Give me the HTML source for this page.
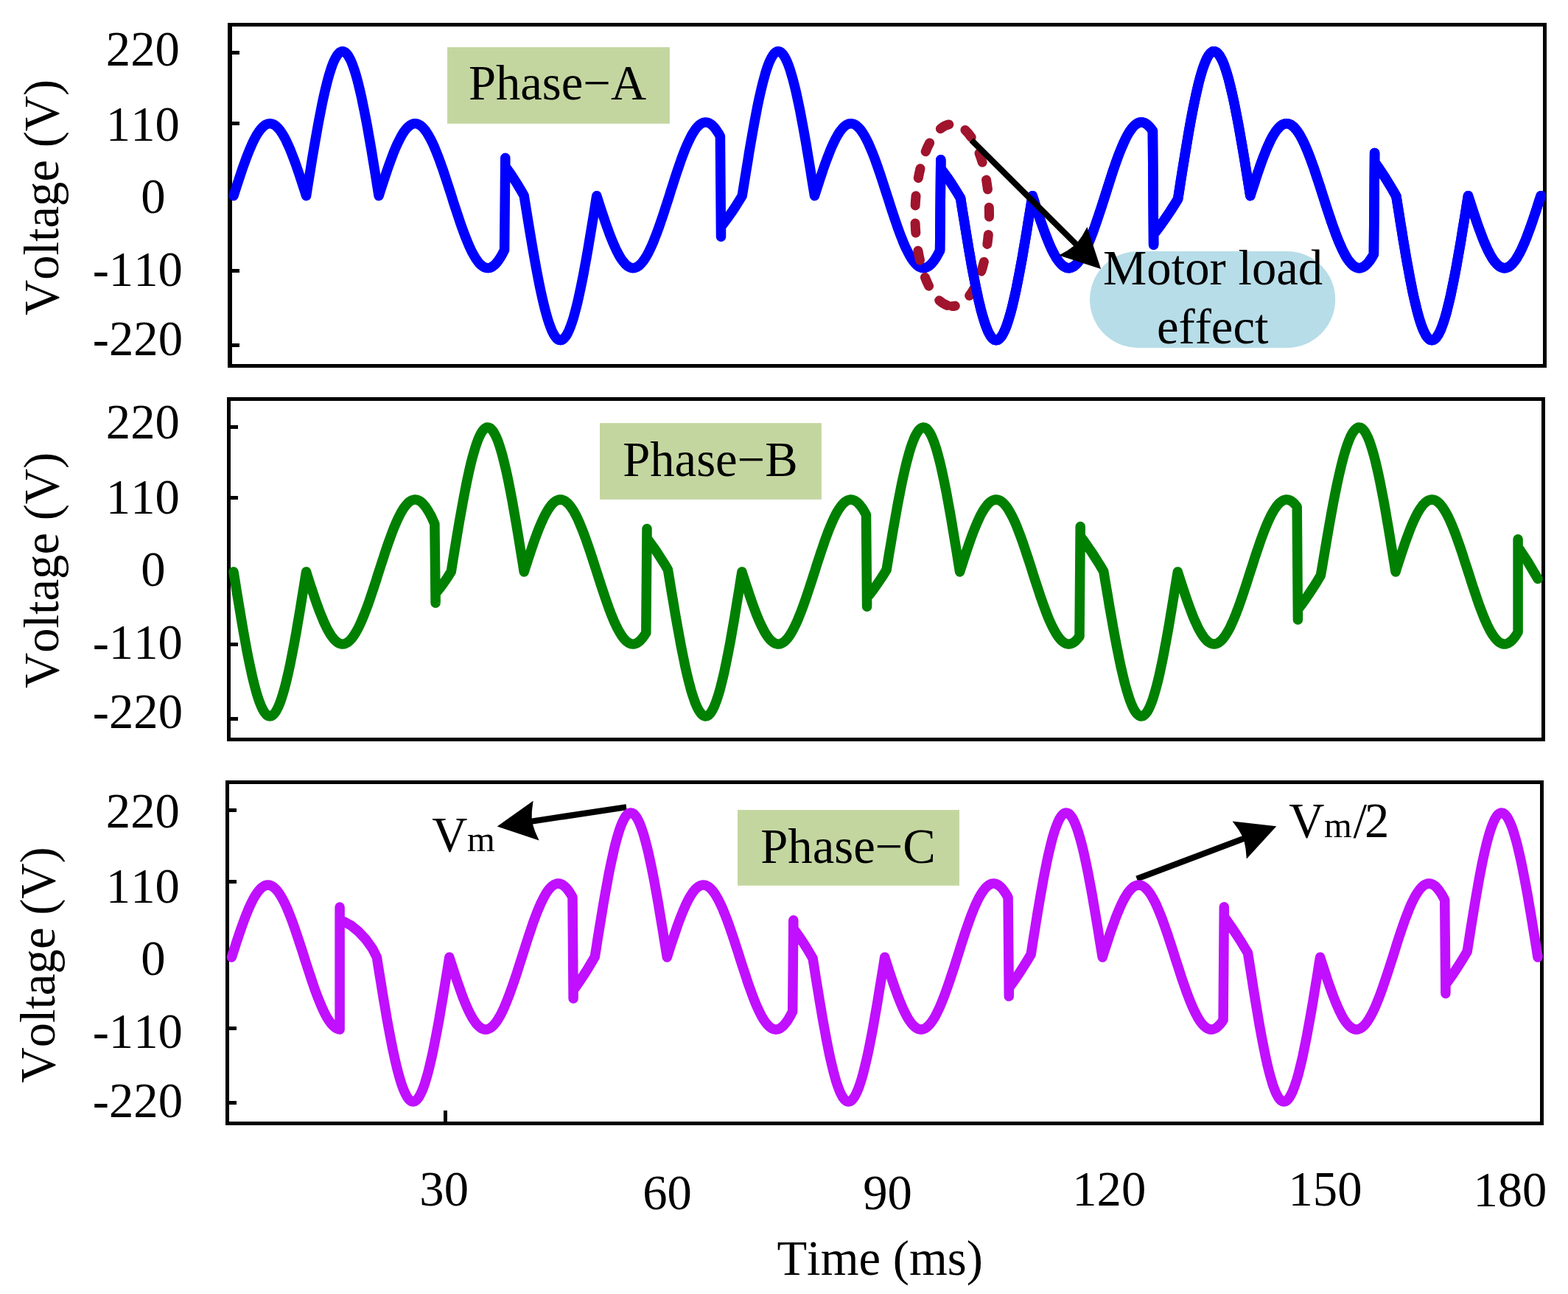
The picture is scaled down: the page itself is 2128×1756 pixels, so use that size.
<!DOCTYPE html>
<html lang="en">
<head>
<meta charset="utf-8">
<title>Three-phase voltage waveforms</title>
<style>
html,body{margin:0;padding:0;background:#fff;}
body{width:2128px;height:1756px;}
svg{display:block;}
svg text{font-family:"Liberation Serif", "DejaVu Serif", serif;font-size:66.67px;fill:#000;font-kerning:none;font-variant-ligatures:none;white-space:pre;}
</style>
</head>
<body>
<svg width="2128" height="1756" viewBox="0 0 2128 1756">
<rect width="2128" height="1756" fill="#fff"/>
<g id="panel1">
<path d="M309,31H2099V499H309Z M315,36V494H2094V36Z" fill="#000" fill-rule="evenodd"/>
<path d="M314,69H325V74H314Z M314,165H325V170H314Z M314,365H325V370H314Z M314,466H325V471H314Z" fill="#000"/>
<path d="M317.0,265.7 319.0,259.5 320.9,253.4 322.9,247.3 324.9,241.3 326.9,235.4 328.8,229.6 330.8,224.0 332.8,218.5 334.7,213.2 336.7,208.1 338.7,203.2 340.7,198.6 342.6,194.3 344.6,190.2 346.6,186.4 348.5,182.9 350.5,179.8 352.5,177.0 354.5,174.6 356.4,172.5 358.4,170.8 360.4,169.4 362.3,168.5 364.3,167.9 366.3,167.7 368.3,167.9 370.2,168.5 372.2,169.4 374.2,170.8 376.1,172.5 378.1,174.6 380.1,177.0 382.0,179.8 384.0,182.9 386.0,186.4 388.0,190.2 389.9,194.3 391.9,198.6 393.9,203.2 395.8,208.1 397.8,213.2 399.8,218.5 401.8,224.0 403.7,229.6 405.7,235.4 407.7,241.3 409.6,247.3 411.6,253.4 413.6,259.5 415.6,265.7 415.6,265.7 417.5,253.4 419.5,241.1 421.5,229.0 423.4,217.0 425.4,205.1 427.4,193.5 429.4,182.2 431.3,171.3 433.3,160.7 435.3,150.5 437.2,140.8 439.2,131.5 441.2,122.8 443.2,114.7 445.1,107.1 447.1,100.2 449.1,93.9 451.0,88.3 453.0,83.4 455.0,79.3 457.0,75.8 458.9,73.2 460.9,71.2 462.9,70.1 464.8,69.7 466.8,70.1 468.8,71.2 470.8,73.2 472.7,75.8 474.7,79.3 476.7,83.4 478.6,88.3 480.6,93.9 482.6,100.2 484.6,107.1 486.5,114.7 488.5,122.8 490.5,131.5 492.4,140.8 494.4,150.5 496.4,160.7 498.4,171.3 500.3,182.2 502.3,193.5 504.3,205.1 506.2,217.0 508.2,229.0 510.2,241.1 512.1,253.4 514.1,265.7 514.1,265.7 516.1,259.5 518.1,253.3 520.1,247.2 522.1,241.2 524.0,235.2 526.0,229.4 528.0,223.7 530.0,218.2 532.0,212.9 533.9,207.8 535.9,202.9 537.9,198.3 539.9,193.9 541.9,189.9 543.9,186.1 545.8,182.6 547.8,179.5 549.8,176.7 551.8,174.3 553.8,172.3 555.8,170.6 557.7,169.3 559.7,168.4 561.7,167.8 563.7,167.7 565.7,167.9 567.7,168.6 569.6,169.6 571.6,171.0 573.6,172.8 575.6,175.0 577.6,177.5 579.5,180.4 581.5,183.6 583.5,187.2 585.5,191.0 587.5,195.2 589.5,199.6 591.4,204.3 593.4,209.3 595.4,214.4 597.4,219.8 599.4,225.4 601.4,231.1 603.3,236.9 605.3,242.9 607.3,249.0 609.3,255.1 611.3,261.3 613.3,267.5 615.2,273.7 617.2,279.8 619.2,285.9 621.2,291.9 623.2,297.9 625.1,303.6 627.1,309.3 629.1,314.7 631.1,320.0 633.1,325.0 635.1,329.8 637.0,334.4 639.0,338.7 641.0,342.7 643.0,346.3 645.0,349.7 647.0,352.7 648.9,355.4 650.9,357.7 652.9,359.7 654.9,361.2 656.9,362.4 658.9,363.2 660.8,363.6 662.8,363.7 664.8,363.3 666.8,362.6 668.8,361.4 670.8,359.9 672.7,358.0 674.7,355.7 676.7,353.1 678.7,350.1 680.7,346.8 682.6,343.2 684.6,339.2 685.8,214.3 685.8,225.9 690.0,231.7 694.3,237.9 698.5,244.4 702.8,251.2 707.0,258.3 711.2,265.7 713.1,277.5 715.0,289.3 716.9,301.0 718.8,312.6 720.7,324.0 722.6,335.2 724.5,346.1 726.4,356.8 728.3,367.1 730.2,377.1 732.1,386.6 734.0,395.7 735.9,404.3 737.8,412.4 739.7,420.0 741.6,427.0 743.5,433.5 745.4,439.3 747.3,444.5 749.1,449.0 751.0,452.8 752.9,456.0 754.8,458.5 756.7,460.3 758.6,461.4 760.5,461.7 760.5,461.7 762.5,461.3 764.5,460.2 766.4,458.2 768.4,455.6 770.4,452.1 772.3,448.0 774.3,443.1 776.3,437.5 778.3,431.2 780.2,424.3 782.2,416.7 784.2,408.6 786.1,399.9 788.1,390.6 790.1,380.9 792.1,370.7 794.0,360.1 796.0,349.2 798.0,337.9 799.9,326.3 801.9,314.4 803.9,302.4 805.9,290.3 807.8,278.0 809.8,265.7 809.8,265.7 811.8,271.9 813.7,278.0 815.7,284.1 817.7,290.1 819.7,296.0 821.6,301.8 823.6,307.4 825.6,312.9 827.5,318.2 829.5,323.3 831.5,328.2 833.5,332.8 835.4,337.1 837.4,341.2 839.4,345.0 841.3,348.5 843.3,351.6 845.3,354.4 847.3,356.8 849.2,358.9 851.2,360.6 853.2,362.0 855.1,362.9 857.1,363.5 859.1,363.7 861.1,363.5 863.0,362.9 865.0,362.0 867.0,360.6 868.9,358.9 870.9,356.8 872.9,354.4 874.8,351.6 876.8,348.5 878.8,345.0 880.8,341.2 882.7,337.1 884.7,332.8 886.7,328.2 888.6,323.3 890.6,318.2 892.6,312.9 894.6,307.4 896.5,301.8 898.5,296.0 900.5,290.1 902.4,284.1 904.4,278.0 906.4,271.9 908.4,265.7 910.3,259.4 912.3,253.2 914.3,247.0 916.2,240.9 918.2,234.9 920.2,229.0 922.2,223.2 924.1,217.6 926.1,212.2 928.1,207.0 930.0,202.1 932.0,197.4 934.0,193.0 936.0,188.8 937.9,185.0 939.9,181.4 941.9,178.3 943.8,175.4 945.8,172.9 947.8,170.8 949.8,169.0 951.7,167.7 953.7,166.7 955.7,166.1 957.6,165.9 959.6,166.1 961.6,166.7 963.6,167.7 965.5,169.0 967.5,170.8 969.5,172.9 971.4,175.4 973.4,178.3 975.4,181.4 977.4,185.0 978.5,321.3 978.5,307.8 983.3,301.5 988.1,295.0 992.9,288.2 997.7,281.0 1002.4,273.5 1007.2,265.7 1009.1,253.9 1011.0,242.1 1012.9,230.4 1014.8,218.8 1016.6,207.4 1018.5,196.2 1020.4,185.3 1022.3,174.6 1024.2,164.3 1026.1,154.3 1027.9,144.8 1029.8,135.7 1031.7,127.1 1033.6,119.0 1035.5,111.4 1037.4,104.4 1039.2,97.9 1041.1,92.1 1043.0,86.9 1044.9,82.4 1046.8,78.6 1048.7,75.4 1050.5,72.9 1052.4,71.1 1054.3,70.0 1056.2,69.7 1056.2,69.7 1058.2,70.1 1060.1,71.2 1062.1,73.2 1064.1,75.8 1066.1,79.3 1068.0,83.4 1070.0,88.3 1072.0,93.9 1073.9,100.2 1075.9,107.1 1077.9,114.7 1079.9,122.8 1081.8,131.5 1083.8,140.8 1085.8,150.5 1087.7,160.7 1089.7,171.3 1091.7,182.2 1093.7,193.5 1095.6,205.1 1097.6,217.0 1099.6,229.0 1101.5,241.1 1103.5,253.4 1105.5,265.7 1105.5,265.7 1107.5,259.5 1109.4,253.4 1111.4,247.3 1113.4,241.2 1115.4,235.3 1117.3,229.5 1119.3,223.8 1121.3,218.3 1123.3,213.0 1125.3,207.9 1127.2,203.0 1129.2,198.4 1131.2,194.1 1133.2,190.0 1135.2,186.2 1137.1,182.8 1139.1,179.6 1141.1,176.9 1143.1,174.4 1145.0,172.4 1147.0,170.7 1149.0,169.3 1151.0,168.4 1153.0,167.9 1154.9,167.7 1156.9,167.9 1158.9,168.5 1160.9,169.5 1162.8,170.9 1164.8,172.7 1166.8,174.8 1168.8,177.3 1170.8,180.2 1172.7,183.3 1174.7,186.9 1176.7,190.7 1178.7,194.8 1180.6,199.2 1182.6,203.9 1184.6,208.8 1186.6,213.9 1188.6,219.3 1190.5,224.8 1192.5,230.5 1194.5,236.3 1196.5,242.3 1198.4,248.3 1200.4,254.4 1202.4,260.6 1204.4,266.8 1206.4,272.9 1208.3,279.1 1210.3,285.2 1212.3,291.2 1214.3,297.1 1216.3,302.9 1218.2,308.5 1220.2,314.0 1222.2,319.3 1224.2,324.3 1226.1,329.2 1228.1,333.8 1230.1,338.1 1232.1,342.1 1234.1,345.8 1236.0,349.2 1238.0,352.3 1240.0,355.0 1242.0,357.4 1243.9,359.4 1245.9,361.0 1247.9,362.3 1249.9,363.1 1251.9,363.6 1253.8,363.7 1255.8,363.4 1257.8,362.7 1259.8,361.6 1261.7,360.2 1263.7,358.4 1265.7,356.2 1267.7,353.6 1269.7,350.7 1271.6,347.5 1273.6,343.9 1275.6,340.0 1276.8,216.7 1276.8,228.8 1281.2,234.7 1285.7,240.9 1290.2,247.5 1294.6,254.3 1299.1,261.5 1303.6,269.0 1305.4,280.7 1307.3,292.3 1309.2,303.9 1311.0,315.3 1312.9,326.6 1314.7,337.6 1316.6,348.3 1318.4,358.8 1320.3,368.9 1322.2,378.7 1324.0,388.1 1325.9,397.0 1327.7,405.5 1329.6,413.4 1331.4,420.9 1333.3,427.7 1335.2,434.0 1337.0,439.7 1338.9,444.8 1340.7,449.3 1342.6,453.0 1344.5,456.1 1346.3,458.6 1348.2,460.3 1350.0,461.4 1351.9,461.7 1351.9,461.7 1353.9,461.3 1355.8,460.2 1357.8,458.2 1359.8,455.6 1361.7,452.1 1363.7,448.0 1365.7,443.1 1367.6,437.5 1369.6,431.2 1371.6,424.3 1373.6,416.7 1375.5,408.6 1377.5,399.9 1379.5,390.6 1381.4,380.9 1383.4,370.7 1385.4,360.1 1387.4,349.2 1389.3,337.9 1391.3,326.3 1393.3,314.4 1395.2,302.4 1397.2,290.3 1399.2,278.0 1401.2,265.7 1401.2,265.7 1403.2,271.9 1405.1,278.1 1407.1,284.2 1409.1,290.3 1411.1,296.3 1413.1,302.1 1415.1,307.8 1417.1,313.3 1419.1,318.7 1421.1,323.8 1423.1,328.7 1425.0,333.3 1427.0,337.7 1429.0,341.8 1431.0,345.5 1433.0,349.0 1435.0,352.1 1437.0,354.8 1439.0,357.2 1441.0,359.3 1443.0,360.9 1444.9,362.2 1446.9,363.1 1448.9,363.6 1450.9,363.7 1452.9,363.4 1454.9,362.7 1456.9,361.6 1458.9,360.2 1460.9,358.3 1462.9,356.1 1464.9,353.5 1466.8,350.6 1468.8,347.3 1470.8,343.7 1472.8,339.8 1474.8,335.6 1476.8,331.1 1478.8,326.4 1480.8,321.3 1482.8,316.1 1484.8,310.7 1486.7,305.1 1488.7,299.3 1490.7,293.4 1492.7,287.4 1494.7,281.3 1496.7,275.1 1498.7,268.9 1500.7,262.6 1502.7,256.3 1504.7,250.0 1506.7,243.8 1508.6,237.7 1510.6,231.7 1512.6,225.8 1514.6,220.1 1516.6,214.5 1518.6,209.2 1520.6,204.1 1522.6,199.3 1524.6,194.7 1526.6,190.4 1528.5,186.4 1530.5,182.7 1532.5,179.3 1534.5,176.4 1536.5,173.7 1538.5,171.4 1540.5,169.6 1542.5,168.1 1544.5,166.9 1546.5,166.2 1548.5,165.9 1550.4,166.0 1552.4,166.5 1554.4,167.4 1556.4,168.7 1558.4,170.4 1560.4,172.4 1562.4,174.9 1564.4,177.7 1565.6,332.2 1565.6,318.3 1571.1,311.0 1576.6,303.5 1582.1,295.6 1587.6,287.5 1593.1,279.0 1598.6,270.2 1600.5,258.1 1602.3,246.2 1604.2,234.3 1606.1,222.5 1608.0,210.8 1609.9,199.4 1611.8,188.2 1613.6,177.3 1615.5,166.8 1617.4,156.6 1619.3,146.8 1621.2,137.5 1623.1,128.7 1625.0,120.3 1626.8,112.6 1628.7,105.4 1630.6,98.8 1632.5,92.8 1634.4,87.4 1636.3,82.8 1638.1,78.8 1640.0,75.5 1641.9,73.0 1643.8,71.2 1645.7,70.0 1647.6,69.7 1647.6,69.7 1649.5,70.1 1651.5,71.2 1653.5,73.2 1655.4,75.8 1657.4,79.3 1659.4,83.4 1661.4,88.3 1663.3,93.9 1665.3,100.2 1667.3,107.1 1669.2,114.7 1671.2,122.8 1673.2,131.5 1675.2,140.8 1677.1,150.5 1679.1,160.7 1681.1,171.3 1683.0,182.2 1685.0,193.5 1687.0,205.1 1689.0,217.0 1690.9,229.0 1692.9,241.1 1694.9,253.4 1696.8,265.7 1696.8,265.7 1698.8,259.5 1700.8,253.4 1702.8,247.3 1704.7,241.3 1706.7,235.4 1708.7,229.6 1710.6,224.0 1712.6,218.5 1714.6,213.2 1716.6,208.1 1718.5,203.2 1720.5,198.6 1722.5,194.3 1724.4,190.2 1726.4,186.4 1728.4,182.9 1730.4,179.8 1732.3,177.0 1734.3,174.6 1736.3,172.5 1738.2,170.8 1740.2,169.4 1742.2,168.5 1744.1,167.9 1746.1,167.7 1748.1,167.9 1750.1,168.5 1752.0,169.4 1754.0,170.8 1756.0,172.5 1757.9,174.6 1759.9,177.0 1761.9,179.8 1763.9,182.9 1765.8,186.4 1767.8,190.2 1769.8,194.3 1771.7,198.6 1773.7,203.2 1775.7,208.1 1777.7,213.2 1779.6,218.5 1781.6,224.0 1783.6,229.6 1785.5,235.4 1787.5,241.3 1789.5,247.3 1791.5,253.4 1793.4,259.5 1795.4,265.7 1797.4,271.9 1799.3,278.0 1801.3,284.1 1803.3,290.1 1805.3,296.0 1807.2,301.8 1809.2,307.4 1811.2,312.9 1813.1,318.2 1815.1,323.3 1817.1,328.2 1819.1,332.8 1821.0,337.1 1823.0,341.2 1825.0,345.0 1826.9,348.5 1828.9,351.6 1830.9,354.4 1832.9,356.8 1834.8,358.9 1836.8,360.6 1838.8,362.0 1840.7,362.9 1842.7,363.5 1844.7,363.7 1846.7,363.5 1848.6,362.9 1850.6,362.0 1852.6,360.6 1854.5,358.9 1856.5,356.8 1858.5,354.4 1860.4,351.6 1862.4,348.5 1864.4,345.0 1865.6,207.4 1865.6,220.1 1870.5,227.0 1875.4,234.3 1880.3,241.8 1885.2,249.7 1890.1,257.9 1894.9,266.4 1896.8,278.2 1898.7,290.0 1900.5,301.7 1902.4,313.2 1904.2,324.6 1906.1,335.7 1907.9,346.6 1909.8,357.2 1911.7,367.5 1913.5,377.4 1915.4,386.9 1917.2,396.0 1919.1,404.6 1921.0,412.6 1922.8,420.2 1924.7,427.2 1926.5,433.6 1928.4,439.4 1930.2,444.5 1932.1,449.0 1934.0,452.9 1935.8,456.1 1937.7,458.5 1939.5,460.3 1941.4,461.4 1943.2,461.7 1943.2,461.7 1945.2,461.3 1947.2,460.2 1949.2,458.2 1951.1,455.6 1953.1,452.1 1955.1,448.0 1957.0,443.1 1959.0,437.5 1961.0,431.2 1963.0,424.3 1964.9,416.7 1966.9,408.6 1968.9,399.9 1970.8,390.6 1972.8,380.9 1974.8,370.7 1976.8,360.1 1978.7,349.2 1980.7,337.9 1982.7,326.3 1984.6,314.4 1986.6,302.4 1988.6,290.3 1990.5,278.0 1992.5,265.7 1992.5,265.7 1994.5,271.9 1996.5,278.0 1998.4,284.1 2000.4,290.1 2002.4,296.0 2004.3,301.8 2006.3,307.4 2008.3,312.9 2010.3,318.2 2012.2,323.3 2014.2,328.2 2016.2,332.8 2018.1,337.1 2020.1,341.2 2022.1,345.0 2024.1,348.5 2026.0,351.6 2028.0,354.4 2030.0,356.8 2031.9,358.9 2033.9,360.6 2035.9,362.0 2037.9,362.9 2039.8,363.5 2041.8,363.7 2043.8,363.5 2045.7,362.9 2047.7,362.0 2049.7,360.6 2051.7,358.9 2053.6,356.8 2055.6,354.4 2057.6,351.6 2059.5,348.5 2061.5,345.0 2063.5,341.2 2065.5,337.1 2067.4,332.8 2069.4,328.2 2071.4,323.3 2073.3,318.2 2075.3,312.9 2077.3,307.4 2079.3,301.8 2081.2,296.0 2083.2,290.1 2085.2,284.1 2087.1,278.0 2089.1,271.9 2091.1,265.7" fill="none" stroke="#0000FF" stroke-width="13.5" stroke-linecap="round" stroke-linejoin="round"/>
<path d="M1292.2,415.5 A50.3,123.5 0 1 0 1292.2,168.5 A50.3,123.5 0 1 0 1292.2,415.5" fill="none" stroke="#A0142D" stroke-width="13" stroke-linecap="round" stroke-dasharray="13 24.3" stroke-dashoffset="8.9"/>
<path d="M1275.6,340.0 1276.8,216.7 1276.8,228.8 1281.2,234.7 1285.7,240.9 1290.2,247.5 1294.6,254.3 1299.1,261.5 1303.6,269.0 1305.4,280.7 1307.3,292.3 1309.2,303.9 1311.0,315.3 1312.9,326.6 1314.7,337.6 1316.6,348.3 1318.4,358.8 1320.3,368.9 1322.2,378.7 1324.0,388.1 1325.9,397.0 1327.7,405.5 1329.6,413.4 1331.4,420.9 1333.3,427.7 1335.2,434.0 1337.0,439.7 1338.9,444.8 1340.7,449.3 1342.6,453.0 1344.5,456.1 1346.3,458.6 1348.2,460.3 1350.0,461.4 1351.9,461.7 1351.9,461.7 1353.9,461.3 1355.8,460.2 1357.8,458.2 1359.8,455.6 1361.7,452.1 1363.7,448.0 1365.7,443.1 1367.6,437.5 1369.6,431.2 1371.6,424.3 1373.6,416.7 1375.5,408.6 1377.5,399.9 1379.5,390.6 1381.4,380.9 1383.4,370.7 1385.4,360.1 1387.4,349.2 1389.3,337.9 1391.3,326.3 1393.3,314.4 1395.2,302.4 1397.2,290.3 1399.2,278.0 1401.2,265.7 1401.2,265.7 1403.2,271.9 1405.1,278.1 1407.1,284.2 1409.1,290.3 1411.1,296.3 1413.1,302.1 1415.1,307.8 1417.1,313.3 1419.1,318.7 1421.1,323.8 1423.1,328.7 1425.0,333.3 1427.0,337.7 1429.0,341.8 1431.0,345.5 1433.0,349.0 1435.0,352.1 1437.0,354.8 1439.0,357.2 1441.0,359.3 1443.0,360.9 1444.9,362.2 1446.9,363.1 1448.9,363.6 1450.9,363.7 1452.9,363.4 1454.9,362.7 1456.9,361.6 1458.9,360.2 1460.9,358.3 1462.9,356.1 1464.9,353.5 1466.8,350.6 1468.8,347.3 1470.8,343.7 1472.8,339.8 1474.8,335.6 1476.8,331.1 1478.8,326.4 1480.8,321.3 1482.8,316.1 1484.8,310.7 1486.7,305.1 1488.7,299.3 1490.7,293.4 1492.7,287.4 1494.7,281.3 1496.7,275.1 1498.7,268.9 1500.7,262.6 1502.7,256.3 1504.7,250.0 1506.7,243.8 1508.6,237.7 1510.6,231.7 1512.6,225.8 1514.6,220.1 1516.6,214.5 1518.6,209.2 1520.6,204.1 1522.6,199.3 1524.6,194.7 1526.6,190.4 1528.5,186.4 1530.5,182.7 1532.5,179.3 1534.5,176.4 1536.5,173.7 1538.5,171.4 1540.5,169.6 1542.5,168.1 1544.5,166.9 1546.5,166.2 1548.5,165.9 1550.4,166.0 1552.4,166.5 1554.4,167.4 1556.4,168.7 1558.4,170.4 1560.4,172.4 1562.4,174.9 1564.4,177.7 1565.6,332.2 1565.6,318.3 1571.1,311.0 1576.6,303.5 1582.1,295.6 1587.6,287.5 1593.1,279.0 1598.6,270.2 1600.5,258.1 1602.3,246.2 1604.2,234.3 1606.1,222.5 1608.0,210.8 1609.9,199.4 1611.8,188.2 1613.6,177.3 1615.5,166.8 1617.4,156.6 1619.3,146.8 1621.2,137.5 1623.1,128.7 1625.0,120.3 1626.8,112.6 1628.7,105.4 1630.6,98.8 1632.5,92.8 1634.4,87.4 1636.3,82.8 1638.1,78.8 1640.0,75.5 1641.9,73.0 1643.8,71.2 1645.7,70.0 1647.6,69.7 1647.6,69.7 1649.5,70.1 1651.5,71.2 1653.5,73.2 1655.4,75.8 1657.4,79.3 1659.4,83.4 1661.4,88.3 1663.3,93.9 1665.3,100.2 1667.3,107.1 1669.2,114.7 1671.2,122.8 1673.2,131.5 1675.2,140.8 1677.1,150.5 1679.1,160.7 1681.1,171.3 1683.0,182.2 1685.0,193.5 1687.0,205.1 1689.0,217.0 1690.9,229.0 1692.9,241.1 1694.9,253.4 1696.8,265.7 1696.8,265.7 1698.8,259.5 1700.8,253.4 1702.8,247.3 1704.7,241.3 1706.7,235.4 1708.7,229.6 1710.6,224.0 1712.6,218.5 1714.6,213.2 1716.6,208.1 1718.5,203.2 1720.5,198.6 1722.5,194.3 1724.4,190.2 1726.4,186.4 1728.4,182.9 1730.4,179.8 1732.3,177.0 1734.3,174.6 1736.3,172.5 1738.2,170.8 1740.2,169.4 1742.2,168.5 1744.1,167.9 1746.1,167.7 1748.1,167.9 1750.1,168.5 1752.0,169.4 1754.0,170.8 1756.0,172.5 1757.9,174.6 1759.9,177.0 1761.9,179.8 1763.9,182.9 1765.8,186.4 1767.8,190.2 1769.8,194.3 1771.7,198.6 1773.7,203.2 1775.7,208.1 1777.7,213.2 1779.6,218.5 1781.6,224.0 1783.6,229.6 1785.5,235.4 1787.5,241.3 1789.5,247.3 1791.5,253.4 1793.4,259.5 1795.4,265.7 1797.4,271.9 1799.3,278.0 1801.3,284.1 1803.3,290.1 1805.3,296.0 1807.2,301.8 1809.2,307.4 1811.2,312.9 1813.1,318.2 1815.1,323.3 1817.1,328.2 1819.1,332.8 1821.0,337.1 1823.0,341.2 1825.0,345.0 1826.9,348.5 1828.9,351.6 1830.9,354.4 1832.9,356.8 1834.8,358.9 1836.8,360.6 1838.8,362.0 1840.7,362.9 1842.7,363.5 1844.7,363.7 1846.7,363.5 1848.6,362.9 1850.6,362.0 1852.6,360.6 1854.5,358.9 1856.5,356.8 1858.5,354.4 1860.4,351.6 1862.4,348.5 1864.4,345.0 1865.6,207.4 1865.6,220.1 1870.5,227.0 1875.4,234.3 1880.3,241.8 1885.2,249.7 1890.1,257.9 1894.9,266.4 1896.8,278.2 1898.7,290.0 1900.5,301.7 1902.4,313.2 1904.2,324.6 1906.1,335.7 1907.9,346.6 1909.8,357.2 1911.7,367.5 1913.5,377.4 1915.4,386.9 1917.2,396.0 1919.1,404.6 1921.0,412.6 1922.8,420.2 1924.7,427.2 1926.5,433.6 1928.4,439.4 1930.2,444.5 1932.1,449.0 1934.0,452.9 1935.8,456.1 1937.7,458.5 1939.5,460.3 1941.4,461.4 1943.2,461.7 1943.2,461.7 1945.2,461.3 1947.2,460.2 1949.2,458.2 1951.1,455.6 1953.1,452.1 1955.1,448.0 1957.0,443.1 1959.0,437.5 1961.0,431.2 1963.0,424.3 1964.9,416.7 1966.9,408.6 1968.9,399.9 1970.8,390.6 1972.8,380.9 1974.8,370.7 1976.8,360.1 1978.7,349.2 1980.7,337.9 1982.7,326.3 1984.6,314.4 1986.6,302.4 1988.6,290.3 1990.5,278.0 1992.5,265.7 1992.5,265.7 1994.5,271.9 1996.5,278.0 1998.4,284.1 2000.4,290.1 2002.4,296.0 2004.3,301.8 2006.3,307.4 2008.3,312.9 2010.3,318.2 2012.2,323.3 2014.2,328.2 2016.2,332.8 2018.1,337.1 2020.1,341.2 2022.1,345.0 2024.1,348.5 2026.0,351.6 2028.0,354.4 2030.0,356.8 2031.9,358.9 2033.9,360.6 2035.9,362.0 2037.9,362.9 2039.8,363.5 2041.8,363.7 2043.8,363.5 2045.7,362.9 2047.7,362.0 2049.7,360.6 2051.7,358.9 2053.6,356.8 2055.6,354.4 2057.6,351.6 2059.5,348.5 2061.5,345.0 2063.5,341.2 2065.5,337.1 2067.4,332.8 2069.4,328.2 2071.4,323.3 2073.3,318.2 2075.3,312.9 2077.3,307.4 2079.3,301.8 2081.2,296.0 2083.2,290.1 2085.2,284.1 2087.1,278.0 2089.1,271.9 2091.1,265.7" fill="none" stroke="#0000FF" stroke-width="13.5" stroke-linecap="round" stroke-linejoin="round"/>
<text x="143.83" y="88.60">220</text>
<text x="143.83" y="191.40">110</text>
<text x="191.20" y="289.00">0</text>
<text x="125.63" y="388.30">-110</text>
<text x="125.83" y="482.10">-220</text>
<text transform="translate(79.0,428.0) rotate(-90)">Voltage (V)</text>
</g>
<g id="panel2">
<path d="M308,539H2097V1006H308Z M313,544V1001H2092V544Z" fill="#000" fill-rule="evenodd"/>
<path d="M312,577H323V582H312Z M312,673H323V678H312Z M312,872H323V877H312Z M312,973H323V978H312Z" fill="#000"/>
<path d="M317.0,776.0 319.0,788.3 320.9,800.6 322.9,812.7 324.9,824.7 326.9,836.6 328.8,848.2 330.8,859.5 332.8,870.4 334.7,881.0 336.7,891.2 338.7,900.9 340.7,910.2 342.6,918.9 344.6,927.0 346.6,934.6 348.5,941.5 350.5,947.8 352.5,953.4 354.5,958.3 356.4,962.4 358.4,965.9 360.4,968.5 362.3,970.5 364.3,971.6 366.3,972.0 368.3,971.6 370.2,970.5 372.2,968.5 374.2,965.9 376.1,962.4 378.1,958.3 380.1,953.4 382.0,947.8 384.0,941.5 386.0,934.6 388.0,927.0 389.9,918.9 391.9,910.2 393.9,900.9 395.8,891.2 397.8,881.0 399.8,870.4 401.8,859.5 403.7,848.2 405.7,836.6 407.7,824.7 409.6,812.7 411.6,800.6 413.6,788.3 415.6,776.0 415.6,776.0 417.5,782.2 419.5,788.3 421.5,794.5 423.5,800.5 425.5,806.4 427.4,812.3 429.4,817.9 431.4,823.4 433.4,828.8 435.4,833.9 437.4,838.7 439.3,843.4 441.3,847.7 443.3,851.8 445.3,855.6 447.3,859.0 449.2,862.1 451.2,864.9 453.2,867.3 455.2,869.4 457.2,871.1 459.1,872.4 461.1,873.3 463.1,873.9 465.1,874.0 467.1,873.8 469.1,873.1 471.0,872.1 473.0,870.7 475.0,868.9 477.0,866.8 479.0,864.2 480.9,861.4 482.9,858.2 484.9,854.6 486.9,850.8 488.9,846.6 490.8,842.2 492.8,837.5 494.8,832.6 496.8,827.4 498.8,822.1 500.8,816.5 502.7,810.8 504.7,804.9 506.7,799.0 508.7,792.9 510.7,786.8 512.6,780.6 514.6,774.4 516.6,768.2 518.6,762.1 520.6,756.0 522.5,750.0 524.5,744.1 526.5,738.3 528.5,732.7 530.5,727.2 532.5,721.9 534.4,716.9 536.4,712.1 538.4,707.5 540.4,703.2 542.4,699.2 544.3,695.5 546.3,692.2 548.3,689.1 550.3,686.4 552.3,684.1 554.2,682.1 556.2,680.5 558.2,679.3 560.2,678.5 562.2,678.1 564.2,678.0 566.1,678.4 568.1,679.1 570.1,680.2 572.1,681.7 574.1,683.6 576.0,685.8 578.0,688.4 580.0,691.4 582.0,694.7 584.0,698.3 586.0,702.2 587.9,706.5 589.9,711.0 591.1,818.2 591.1,805.2 594.6,801.1 598.2,796.6 601.7,791.8 605.2,786.7 608.8,781.3 612.3,775.6 614.2,763.7 616.1,752.0 618.0,740.3 619.9,728.7 621.8,717.3 623.7,706.2 625.7,695.3 627.6,684.6 629.5,674.3 631.4,664.4 633.3,654.9 635.2,645.8 637.1,637.2 639.0,629.1 640.9,621.6 642.9,614.6 644.8,608.2 646.7,602.4 648.6,597.2 650.5,592.7 652.4,588.8 654.3,585.7 656.2,583.2 658.1,581.4 660.0,580.3 662.0,580.0 662.0,580.0 663.9,580.4 665.9,581.5 667.9,583.5 669.8,586.1 671.8,589.6 673.8,593.7 675.8,598.6 677.7,604.2 679.7,610.5 681.7,617.4 683.6,625.0 685.6,633.1 687.6,641.8 689.6,651.1 691.5,660.8 693.5,671.0 695.5,681.6 697.4,692.5 699.4,703.8 701.4,715.4 703.4,727.3 705.3,739.3 707.3,751.4 709.3,763.7 711.2,776.0 711.2,776.0 713.2,769.8 715.2,763.6 717.2,757.4 719.2,751.3 721.2,745.4 723.2,739.5 725.2,733.8 727.2,728.3 729.2,722.9 731.2,717.8 733.2,712.9 735.2,708.3 737.2,703.9 739.2,699.8 741.2,696.1 743.2,692.6 745.2,689.5 747.1,686.8 749.1,684.4 751.1,682.3 753.1,680.7 755.1,679.4 757.1,678.6 759.1,678.1 761.1,678.0 763.1,678.3 765.1,679.0 767.1,680.1 769.1,681.6 771.1,683.5 773.1,685.7 775.1,688.4 777.1,691.3 779.1,694.6 781.1,698.3 783.1,702.2 785.1,706.5 787.0,711.0 789.0,715.8 791.0,720.8 793.0,726.1 795.0,731.5 797.0,737.2 799.0,743.0 801.0,748.9 803.0,754.9 805.0,761.1 807.0,767.3 809.0,773.5 811.0,779.7 813.0,785.9 815.0,792.1 817.0,798.2 819.0,804.2 821.0,810.1 823.0,815.9 825.0,821.5 826.9,826.9 828.9,832.2 830.9,837.1 832.9,841.9 834.9,846.4 836.9,850.6 838.9,854.5 840.9,858.0 842.9,861.3 844.9,864.2 846.9,866.7 848.9,868.9 850.9,870.7 852.9,872.1 854.9,873.1 856.9,873.8 858.9,874.0 860.9,873.9 862.9,873.3 864.9,872.4 866.8,871.0 868.8,869.3 870.8,867.2 872.8,864.7 874.8,861.9 876.8,858.8 878.0,717.5 878.0,730.6 882.7,736.8 887.5,743.4 892.2,750.3 896.9,757.6 901.7,765.1 906.4,773.0 908.4,784.9 910.3,796.8 912.3,808.7 914.3,820.4 916.2,832.0 918.2,843.3 920.2,854.4 922.2,865.2 924.1,875.7 926.1,885.8 928.1,895.5 930.0,904.8 932.0,913.5 934.0,921.8 936.0,929.5 937.9,936.7 939.9,943.2 941.9,949.1 943.8,954.4 945.8,959.0 947.8,963.0 949.8,966.2 951.7,968.7 953.7,970.6 955.7,971.7 957.6,972.0 957.6,972.0 959.6,971.6 961.6,970.5 963.6,968.5 965.5,965.9 967.5,962.4 969.5,958.3 971.4,953.4 973.4,947.8 975.4,941.5 977.4,934.6 979.3,927.0 981.3,918.9 983.3,910.2 985.2,900.9 987.2,891.2 989.2,881.0 991.2,870.4 993.1,859.5 995.1,848.2 997.1,836.6 999.0,824.7 1001.0,812.7 1003.0,800.6 1004.9,788.3 1006.9,776.0 1006.9,776.0 1008.9,782.2 1010.9,788.4 1012.9,794.5 1014.9,800.5 1016.8,806.5 1018.8,812.3 1020.8,818.0 1022.8,823.5 1024.8,828.8 1026.7,833.9 1028.7,838.8 1030.7,843.4 1032.7,847.8 1034.7,851.8 1036.7,855.6 1038.6,859.1 1040.6,862.2 1042.6,865.0 1044.6,867.4 1046.6,869.4 1048.6,871.1 1050.5,872.4 1052.5,873.3 1054.5,873.9 1056.5,874.0 1058.5,873.8 1060.5,873.1 1062.4,872.1 1064.4,870.7 1066.4,868.9 1068.4,866.7 1070.4,864.2 1072.4,861.3 1074.3,858.1 1076.3,854.5 1078.3,850.7 1080.3,846.5 1082.3,842.1 1084.2,837.4 1086.2,832.4 1088.2,827.3 1090.2,821.9 1092.2,816.3 1094.2,810.6 1096.1,804.7 1098.1,798.8 1100.1,792.7 1102.1,786.6 1104.1,780.4 1106.1,774.2 1108.0,768.0 1110.0,761.8 1112.0,755.8 1114.0,749.7 1116.0,743.8 1118.0,738.0 1119.9,732.4 1121.9,727.0 1123.9,721.7 1125.9,716.6 1127.9,711.8 1129.9,707.3 1131.8,703.0 1133.8,699.0 1135.8,695.3 1137.8,692.0 1139.8,689.0 1141.8,686.3 1143.7,684.0 1145.7,682.0 1147.7,680.5 1149.7,679.3 1151.7,678.5 1153.6,678.1 1155.6,678.0 1157.6,678.4 1159.6,679.2 1161.6,680.3 1163.6,681.8 1165.5,683.7 1167.5,686.0 1169.5,688.6 1171.5,691.6 1173.5,694.9 1175.5,698.6 1176.6,823.3 1176.6,811.1 1181.0,805.6 1185.4,799.8 1189.8,793.6 1194.2,787.2 1198.7,780.4 1203.1,773.3 1205.0,761.6 1206.9,749.9 1208.9,738.3 1210.8,726.9 1212.7,715.6 1214.7,704.6 1216.6,693.8 1218.5,683.3 1220.5,673.1 1222.4,663.3 1224.3,653.9 1226.3,644.9 1228.2,636.5 1230.1,628.5 1232.1,621.0 1234.0,614.1 1235.9,607.8 1237.9,602.1 1239.8,597.0 1241.7,592.5 1243.7,588.7 1245.6,585.6 1247.5,583.1 1249.5,581.4 1251.4,580.3 1253.3,580.0 1253.3,580.0 1255.3,580.4 1257.3,581.5 1259.2,583.5 1261.2,586.1 1263.2,589.6 1265.1,593.7 1267.1,598.6 1269.1,604.2 1271.1,610.5 1273.0,617.4 1275.0,625.0 1277.0,633.1 1278.9,641.8 1280.9,651.1 1282.9,660.8 1284.9,671.0 1286.8,681.6 1288.8,692.5 1290.8,703.8 1292.7,715.4 1294.7,727.3 1296.7,739.3 1298.7,751.4 1300.6,763.7 1302.6,776.0 1302.6,776.0 1304.6,769.8 1306.6,763.7 1308.5,757.5 1310.5,751.5 1312.5,745.6 1314.5,739.8 1316.5,734.1 1318.4,728.6 1320.4,723.3 1322.4,718.1 1324.4,713.3 1326.4,708.6 1328.4,704.3 1330.3,700.2 1332.3,696.4 1334.3,693.0 1336.3,689.9 1338.3,687.1 1340.2,684.7 1342.2,682.6 1344.2,680.9 1346.2,679.6 1348.2,678.7 1350.1,678.1 1352.1,678.0 1354.1,678.2 1356.1,678.9 1358.1,679.9 1360.0,681.3 1362.0,683.1 1364.0,685.2 1366.0,687.7 1368.0,690.6 1369.9,693.8 1371.9,697.3 1373.9,701.2 1375.9,705.3 1377.9,709.7 1379.9,714.4 1381.8,719.4 1383.8,724.5 1385.8,729.9 1387.8,735.4 1389.8,741.2 1391.7,747.0 1393.7,753.0 1395.7,759.0 1397.7,765.1 1399.7,771.3 1401.6,777.5 1403.6,783.7 1405.6,789.8 1407.6,795.9 1409.6,801.9 1411.5,807.9 1413.5,813.6 1415.5,819.3 1417.5,824.7 1419.5,830.0 1421.4,835.1 1423.4,839.9 1425.4,844.4 1427.4,848.7 1429.4,852.7 1431.4,856.4 1433.3,859.8 1435.3,862.8 1437.3,865.5 1439.3,867.9 1441.3,869.8 1443.2,871.4 1445.2,872.7 1447.2,873.5 1449.2,873.9 1451.2,874.0 1453.1,873.6 1455.1,872.9 1457.1,871.8 1459.1,870.3 1461.1,868.4 1463.0,866.2 1465.0,863.6 1466.2,714.6 1466.2,727.7 1471.5,734.8 1476.7,742.3 1482.0,750.0 1487.2,758.1 1492.5,766.5 1497.7,775.2 1499.7,787.1 1501.7,798.9 1503.7,810.6 1505.6,822.3 1507.6,833.7 1509.6,844.9 1511.5,855.9 1513.5,866.6 1515.5,877.0 1517.5,886.9 1519.4,896.5 1521.4,905.7 1523.4,914.3 1525.3,922.5 1527.3,930.1 1529.3,937.1 1531.3,943.6 1533.2,949.5 1535.2,954.7 1537.2,959.2 1539.1,963.1 1541.1,966.3 1543.1,968.8 1545.1,970.6 1547.0,971.7 1549.0,972.0 1549.0,972.0 1551.0,971.6 1552.9,970.5 1554.9,968.5 1556.9,965.9 1558.9,962.4 1560.8,958.3 1562.8,953.4 1564.8,947.8 1566.7,941.5 1568.7,934.6 1570.7,927.0 1572.7,918.9 1574.6,910.2 1576.6,900.9 1578.6,891.2 1580.5,881.0 1582.5,870.4 1584.5,859.5 1586.5,848.2 1588.4,836.6 1590.4,824.7 1592.4,812.7 1594.3,800.6 1596.3,788.3 1598.3,776.0 1598.3,776.0 1600.3,782.2 1602.2,788.3 1604.2,794.4 1606.2,800.4 1608.2,806.3 1610.1,812.1 1612.1,817.8 1614.1,823.3 1616.1,828.6 1618.0,833.7 1620.0,838.6 1622.0,843.2 1624.0,847.5 1625.9,851.6 1627.9,855.4 1629.9,858.8 1631.9,862.0 1633.8,864.8 1635.8,867.2 1637.8,869.3 1639.8,871.0 1641.7,872.3 1643.7,873.3 1645.7,873.8 1647.7,874.0 1649.6,873.8 1651.6,873.2 1653.6,872.2 1655.5,870.8 1657.5,869.1 1659.5,867.0 1661.5,864.5 1663.4,861.7 1665.4,858.5 1667.4,855.1 1669.4,851.3 1671.3,847.2 1673.3,842.8 1675.3,838.1 1677.3,833.2 1679.2,828.1 1681.2,822.8 1683.2,817.3 1685.2,811.6 1687.1,805.8 1689.1,799.9 1691.1,793.8 1693.1,787.7 1695.0,781.6 1697.0,775.4 1699.0,769.3 1701.0,763.1 1702.9,757.0 1704.9,751.0 1706.9,745.1 1708.9,739.3 1710.8,733.7 1712.8,728.2 1714.8,722.9 1716.8,717.8 1718.7,713.0 1720.7,708.4 1722.7,704.1 1724.7,700.0 1726.6,696.3 1728.6,692.9 1730.6,689.8 1732.6,687.0 1734.5,684.6 1736.5,682.5 1738.5,680.9 1740.5,679.6 1742.4,678.7 1744.4,678.1 1746.4,678.0 1748.4,678.2 1750.3,678.9 1752.3,679.9 1754.3,681.3 1756.3,683.1 1758.2,685.2 1760.2,687.7 1761.4,841.0 1761.4,827.3 1766.6,820.3 1771.7,813.1 1776.9,805.4 1782.1,797.5 1787.3,789.3 1792.4,780.7 1794.5,768.7 1796.5,756.7 1798.5,744.8 1800.5,733.0 1802.5,721.3 1804.5,709.9 1806.5,698.7 1808.5,687.8 1810.5,677.2 1812.5,667.1 1814.5,657.3 1816.6,647.9 1818.6,639.1 1820.6,630.7 1822.6,622.9 1824.6,615.7 1826.6,609.1 1828.6,603.1 1830.6,597.8 1832.6,593.1 1834.6,589.1 1836.6,585.9 1838.7,583.3 1840.7,581.5 1842.7,580.3 1844.7,580.0 1844.7,580.0 1846.7,580.4 1848.6,581.5 1850.6,583.5 1852.6,586.1 1854.5,589.6 1856.5,593.7 1858.5,598.6 1860.4,604.2 1862.4,610.5 1864.4,617.4 1866.4,625.0 1868.3,633.1 1870.3,641.8 1872.3,651.1 1874.2,660.8 1876.2,671.0 1878.2,681.6 1880.2,692.5 1882.1,703.8 1884.1,715.4 1886.1,727.3 1888.0,739.3 1890.0,751.4 1892.0,763.7 1894.0,776.0 1894.0,776.0 1895.9,769.8 1897.9,763.7 1899.9,757.6 1901.9,751.5 1903.9,745.6 1905.8,739.8 1907.8,734.1 1909.8,728.6 1911.8,723.3 1913.7,718.2 1915.7,713.3 1917.7,708.7 1919.7,704.4 1921.7,700.3 1923.6,696.5 1925.6,693.1 1927.6,689.9 1929.6,687.2 1931.5,684.7 1933.5,682.7 1935.5,681.0 1937.5,679.6 1939.5,678.7 1941.4,678.2 1943.4,678.0 1945.4,678.2 1947.4,678.8 1949.4,679.8 1951.3,681.2 1953.3,683.0 1955.3,685.1 1957.3,687.6 1959.2,690.5 1961.2,693.7 1963.2,697.2 1965.2,701.0 1967.2,705.1 1969.1,709.5 1971.1,714.2 1973.1,719.1 1975.1,724.2 1977.0,729.6 1979.0,735.1 1981.0,740.8 1983.0,746.7 1985.0,752.6 1986.9,758.7 1988.9,764.8 1990.9,770.9 1992.9,777.1 1994.9,783.3 1996.8,789.4 1998.8,795.5 2000.8,801.5 2002.8,807.4 2004.7,813.2 2006.7,818.9 2008.7,824.3 2010.7,829.6 2012.7,834.7 2014.6,839.5 2016.6,844.1 2018.6,848.4 2020.6,852.4 2022.5,856.1 2024.5,859.5 2026.5,862.6 2028.5,865.3 2030.5,867.7 2032.4,869.7 2034.4,871.3 2036.4,872.6 2038.4,873.4 2040.3,873.9 2042.3,874.0 2044.3,873.7 2046.3,873.0 2048.3,871.9 2050.2,870.5 2052.2,868.7 2054.2,866.5 2056.2,863.9 2058.2,861.0 2060.1,857.7 2060.1,731.8 2060.1,742.2 2073.3,762.2 2087.1,785.5" fill="none" stroke="#008000" stroke-width="13.5" stroke-linecap="round" stroke-linejoin="round"/>
<text x="143.83" y="594.60">220</text>
<text x="143.83" y="697.40">110</text>
<text x="191.20" y="795.00">0</text>
<text x="125.63" y="894.30">-110</text>
<text x="125.83" y="988.10">-220</text>
<text transform="translate(79.0,934.0) rotate(-90)">Voltage (V)</text>
</g>
<g id="panel3">
<path d="M306,1059H2095V1527H306Z M311,1064V1522H2090V1064Z" fill="#000" fill-rule="evenodd"/>
<path d="M310,1097H321V1102H310Z M310,1194H321V1199H310Z M310,1393H321V1398H310Z M310,1494H321V1499H310Z M602,1507H607V1523H602Z" fill="#000"/>
<path d="M850.1,1095.3 L720.7,1114.7" stroke="#000" stroke-width="8.2" fill="none"/>
<path d="M674.7,1121.6 L723.6,1086.7 Q721.1,1100.9 721.7,1114.6 Q725.2,1127.8 731.6,1140.6 Z" fill="#000"/>
<path d="M1542.8,1192.6 L1688.8,1137.7" stroke="#000" stroke-width="8.2" fill="none"/>
<path d="M1732.3,1121.3 L1691.8,1165.6 Q1691.2,1151.3 1687.8,1138.0 Q1681.6,1125.8 1672.6,1114.6 Z" fill="#000"/>
<path d="M314.4,1299.0 316.4,1292.8 318.4,1286.6 320.3,1280.5 322.3,1274.5 324.3,1268.5 326.3,1262.7 328.3,1257.0 330.3,1251.5 332.2,1246.2 334.2,1241.1 336.2,1236.2 338.2,1231.5 340.2,1227.2 342.2,1223.1 344.1,1219.3 346.1,1215.9 348.1,1212.8 350.1,1210.0 352.1,1207.6 354.1,1205.5 356.0,1203.9 358.0,1202.6 360.0,1201.6 362.0,1201.1 364.0,1201.0 366.0,1201.3 367.9,1201.9 369.9,1203.0 371.9,1204.4 373.9,1206.2 375.9,1208.4 377.9,1210.9 379.8,1213.8 381.8,1217.0 383.8,1220.6 385.8,1224.4 387.8,1228.6 389.8,1233.1 391.7,1237.8 393.7,1242.7 395.7,1247.9 397.7,1253.3 399.7,1258.9 401.6,1264.6 403.6,1270.5 405.6,1276.5 407.6,1282.6 409.6,1288.7 411.6,1294.9 413.5,1301.1 415.5,1307.3 417.5,1313.4 419.5,1319.5 421.5,1325.5 423.5,1331.5 425.4,1337.2 427.4,1342.9 429.4,1348.3 431.4,1353.6 433.4,1358.6 435.4,1363.4 437.3,1367.9 439.3,1372.2 441.3,1376.2 443.3,1379.9 445.3,1383.2 447.3,1386.2 449.2,1388.8 451.2,1391.1 453.2,1393.1 455.2,1394.6 457.2,1395.8 459.2,1396.6 461.1,1397.0 461.1,1231.1 461.1,1249.1 468.0,1251.3 476.9,1256.2 486.7,1264.3 496.6,1274.9 505.5,1287.4 511.4,1299.0 513.3,1311.3 515.3,1323.6 517.3,1335.7 519.2,1347.7 521.2,1359.6 523.2,1371.2 525.1,1382.5 527.1,1393.4 529.1,1404.0 531.1,1414.2 533.0,1423.9 535.0,1433.2 537.0,1441.9 538.9,1450.0 540.9,1457.6 542.9,1464.5 544.8,1470.8 546.8,1476.4 548.8,1481.3 550.8,1485.4 552.7,1488.9 554.7,1491.5 556.7,1493.5 558.6,1494.6 560.6,1495.0 562.6,1494.6 564.5,1493.5 566.5,1491.5 568.5,1488.9 570.4,1485.4 572.4,1481.3 574.4,1476.4 576.4,1470.8 578.3,1464.5 580.3,1457.6 582.3,1450.0 584.2,1441.9 586.2,1433.2 588.2,1423.9 590.1,1414.2 592.1,1404.0 594.1,1393.4 596.1,1382.5 598.0,1371.2 600.0,1359.6 602.0,1347.7 603.9,1335.7 605.9,1323.6 607.9,1311.3 609.8,1299.0 609.8,1299.0 611.8,1305.2 613.8,1311.4 615.8,1317.5 617.8,1323.6 619.8,1329.6 621.8,1335.4 623.8,1341.1 625.8,1346.7 627.7,1352.0 629.7,1357.1 631.7,1362.0 633.7,1366.6 635.7,1371.0 637.7,1375.1 639.7,1378.8 641.7,1382.3 643.7,1385.4 645.7,1388.2 647.6,1390.6 649.6,1392.6 651.6,1394.2 653.6,1395.5 655.6,1396.4 657.6,1396.9 659.6,1397.0 661.6,1396.7 663.6,1396.0 665.5,1394.9 667.5,1393.5 669.5,1391.6 671.5,1389.4 673.5,1386.8 675.5,1383.9 677.5,1380.6 679.5,1377.0 681.5,1373.1 683.5,1368.8 685.4,1364.3 687.4,1359.6 689.4,1354.6 691.4,1349.3 693.4,1343.9 695.4,1338.3 697.4,1332.5 699.4,1326.6 701.4,1320.6 703.3,1314.5 705.3,1308.3 707.3,1302.1 709.3,1295.8 711.3,1289.5 713.3,1283.2 715.3,1277.0 717.3,1270.8 719.3,1264.8 721.3,1258.9 723.2,1253.1 725.2,1247.6 727.2,1242.3 729.2,1237.1 731.2,1232.3 733.2,1227.7 735.2,1223.4 737.2,1219.4 739.2,1215.7 741.1,1212.3 743.1,1209.3 745.1,1206.7 747.1,1204.4 749.1,1202.6 751.1,1201.1 753.1,1200.0 755.1,1199.3 757.1,1199.0 759.1,1199.1 761.0,1199.6 763.0,1200.5 765.0,1201.8 767.0,1203.5 769.0,1205.5 771.0,1208.0 773.0,1210.8 775.0,1214.0 777.0,1217.5 778.1,1355.0 778.1,1343.7 783.0,1337.0 787.9,1329.9 792.7,1322.5 797.6,1314.8 802.4,1306.7 807.3,1298.4 809.2,1286.6 811.0,1274.8 812.9,1263.1 814.8,1251.6 816.7,1240.2 818.5,1229.0 820.4,1218.1 822.3,1207.5 824.2,1197.2 826.0,1187.3 827.9,1177.8 829.8,1168.8 831.7,1160.2 833.5,1152.1 835.4,1144.5 837.3,1137.5 839.2,1131.1 841.0,1125.3 842.9,1120.2 844.8,1115.7 846.7,1111.8 848.5,1108.7 850.4,1106.2 852.3,1104.4 854.2,1103.3 856.0,1103.0 856.0,1103.0 858.0,1103.4 860.0,1104.5 861.9,1106.5 863.9,1109.1 865.9,1112.6 867.9,1116.7 869.8,1121.6 871.8,1127.2 873.8,1133.5 875.7,1140.4 877.7,1148.0 879.7,1156.1 881.6,1164.8 883.6,1174.1 885.6,1183.8 887.6,1194.0 889.5,1204.6 891.5,1215.5 893.5,1226.8 895.4,1238.4 897.4,1250.3 899.4,1262.3 901.3,1274.4 903.3,1286.7 905.3,1299.0 905.3,1299.0 907.3,1292.8 909.2,1286.6 911.2,1280.5 913.2,1274.5 915.2,1268.5 917.2,1262.7 919.1,1257.0 921.1,1251.5 923.1,1246.2 925.1,1241.1 927.1,1236.2 929.1,1231.6 931.0,1227.2 933.0,1223.2 935.0,1219.4 937.0,1215.9 939.0,1212.8 940.9,1210.0 942.9,1207.6 944.9,1205.6 946.9,1203.9 948.9,1202.6 950.8,1201.7 952.8,1201.1 954.8,1201.0 956.8,1201.2 958.8,1201.9 960.7,1202.9 962.7,1204.3 964.7,1206.1 966.7,1208.3 968.7,1210.8 970.7,1213.7 972.6,1216.9 974.6,1220.5 976.6,1224.3 978.6,1228.5 980.6,1232.9 982.5,1237.6 984.5,1242.6 986.5,1247.7 988.5,1253.1 990.5,1258.7 992.4,1264.4 994.4,1270.2 996.4,1276.2 998.4,1282.3 1000.4,1288.4 1002.4,1294.6 1004.3,1300.8 1006.3,1307.0 1008.3,1313.1 1010.3,1319.2 1012.3,1325.2 1014.2,1331.2 1016.2,1336.9 1018.2,1342.6 1020.2,1348.0 1022.2,1353.3 1024.1,1358.3 1026.1,1363.1 1028.1,1367.7 1030.1,1372.0 1032.1,1376.0 1034.0,1379.6 1036.0,1383.0 1038.0,1386.0 1040.0,1388.7 1042.0,1391.0 1044.0,1393.0 1045.9,1394.5 1047.9,1395.7 1049.9,1396.5 1051.9,1396.9 1053.9,1397.0 1055.8,1396.6 1057.8,1395.9 1059.8,1394.7 1061.8,1393.2 1063.8,1391.3 1065.7,1389.0 1067.7,1386.4 1069.7,1383.4 1071.7,1380.1 1073.7,1376.5 1075.7,1372.5 1076.8,1248.7 1076.8,1260.2 1081.2,1266.1 1085.6,1272.4 1090.0,1279.0 1094.4,1285.9 1098.7,1293.1 1103.1,1300.7 1105.0,1312.5 1106.8,1324.2 1108.7,1335.8 1110.6,1347.3 1112.4,1358.6 1114.3,1369.7 1116.1,1380.6 1118.0,1391.1 1119.9,1401.4 1121.7,1411.2 1123.6,1420.7 1125.4,1429.7 1127.3,1438.2 1129.2,1446.2 1131.0,1453.7 1132.9,1460.7 1134.7,1467.1 1136.6,1472.8 1138.5,1477.9 1140.3,1482.4 1142.2,1486.2 1144.0,1489.4 1145.9,1491.8 1147.8,1493.6 1149.6,1494.7 1151.5,1495.0 1151.5,1495.0 1153.4,1494.6 1155.4,1493.5 1157.4,1491.5 1159.4,1488.9 1161.3,1485.4 1163.3,1481.3 1165.3,1476.4 1167.2,1470.8 1169.2,1464.5 1171.2,1457.6 1173.1,1450.0 1175.1,1441.9 1177.1,1433.2 1179.1,1423.9 1181.0,1414.2 1183.0,1404.0 1185.0,1393.4 1186.9,1382.5 1188.9,1371.2 1190.9,1359.6 1192.8,1347.7 1194.8,1335.7 1196.8,1323.6 1198.8,1311.3 1200.7,1299.0 1200.7,1299.0 1202.7,1305.2 1204.7,1311.3 1206.6,1317.4 1208.6,1323.4 1210.6,1329.3 1212.5,1335.1 1214.5,1340.7 1216.5,1346.2 1218.4,1351.5 1220.4,1356.6 1222.4,1361.5 1224.4,1366.1 1226.3,1370.4 1228.3,1374.5 1230.3,1378.3 1232.2,1381.8 1234.2,1384.9 1236.2,1387.7 1238.1,1390.1 1240.1,1392.2 1242.1,1393.9 1244.1,1395.3 1246.0,1396.2 1248.0,1396.8 1250.0,1397.0 1251.9,1396.8 1253.9,1396.2 1255.9,1395.3 1257.8,1393.9 1259.8,1392.2 1261.8,1390.1 1263.7,1387.7 1265.7,1384.9 1267.7,1381.8 1269.7,1378.3 1271.6,1374.5 1273.6,1370.4 1275.6,1366.1 1277.5,1361.5 1279.5,1356.6 1281.5,1351.5 1283.4,1346.2 1285.4,1340.7 1287.4,1335.1 1289.4,1329.3 1291.3,1323.4 1293.3,1317.4 1295.3,1311.3 1297.2,1305.2 1299.2,1299.0 1301.2,1292.7 1303.1,1286.5 1305.1,1280.3 1307.1,1274.1 1309.0,1268.1 1311.0,1262.2 1313.0,1256.4 1315.0,1250.8 1316.9,1245.4 1318.9,1240.2 1320.9,1235.2 1322.8,1230.5 1324.8,1226.1 1326.8,1221.9 1328.7,1218.1 1330.7,1214.5 1332.7,1211.3 1334.7,1208.5 1336.6,1206.0 1338.6,1203.8 1340.6,1202.1 1342.5,1200.7 1344.5,1199.7 1346.5,1199.1 1348.4,1198.9 1350.4,1199.1 1352.4,1199.7 1354.3,1200.7 1356.3,1202.1 1358.3,1203.8 1360.3,1206.0 1362.2,1208.5 1364.2,1211.3 1366.2,1214.5 1368.1,1218.1 1369.3,1352.1 1369.3,1340.5 1374.3,1333.7 1379.3,1326.6 1384.2,1319.2 1389.2,1311.4 1394.2,1303.4 1399.2,1295.0 1401.0,1283.3 1402.8,1271.7 1404.7,1260.2 1406.5,1248.8 1408.3,1237.6 1410.2,1226.6 1412.0,1215.9 1413.9,1205.5 1415.7,1195.4 1417.5,1185.6 1419.4,1176.3 1421.2,1167.4 1423.0,1159.0 1424.9,1151.1 1426.7,1143.7 1428.5,1136.8 1430.4,1130.5 1432.2,1124.9 1434.1,1119.8 1435.9,1115.4 1437.7,1111.6 1439.6,1108.5 1441.4,1106.1 1443.2,1104.4 1445.1,1103.3 1446.9,1103.0 1446.9,1103.0 1448.9,1103.4 1450.9,1104.5 1452.8,1106.5 1454.8,1109.1 1456.8,1112.6 1458.7,1116.7 1460.7,1121.6 1462.7,1127.2 1464.6,1133.5 1466.6,1140.4 1468.6,1148.0 1470.6,1156.1 1472.5,1164.8 1474.5,1174.1 1476.5,1183.8 1478.4,1194.0 1480.4,1204.6 1482.4,1215.5 1484.3,1226.8 1486.3,1238.4 1488.3,1250.3 1490.3,1262.3 1492.2,1274.4 1494.2,1286.7 1496.2,1299.0 1496.2,1299.0 1498.1,1292.8 1500.1,1286.7 1502.1,1280.6 1504.1,1274.6 1506.0,1268.6 1508.0,1262.8 1510.0,1257.2 1512.0,1251.7 1513.9,1246.3 1515.9,1241.2 1517.9,1236.4 1519.9,1231.7 1521.8,1227.4 1523.8,1223.3 1525.8,1219.5 1527.8,1216.1 1529.7,1213.0 1531.7,1210.2 1533.7,1207.7 1535.7,1205.7 1537.6,1204.0 1539.6,1202.7 1541.6,1201.7 1543.6,1201.2 1545.5,1201.0 1547.5,1201.2 1549.5,1201.8 1551.5,1202.8 1553.5,1204.2 1555.4,1206.0 1557.4,1208.1 1559.4,1210.6 1561.4,1213.4 1563.3,1216.6 1565.3,1220.1 1567.3,1223.9 1569.3,1228.0 1571.2,1232.4 1573.2,1237.1 1575.2,1242.0 1577.2,1247.1 1579.1,1252.5 1581.1,1258.0 1583.1,1263.7 1585.1,1269.5 1587.0,1275.5 1589.0,1281.5 1591.0,1287.6 1593.0,1293.8 1594.9,1299.9 1596.9,1306.1 1598.9,1312.2 1600.9,1318.3 1602.8,1324.3 1604.8,1330.3 1606.8,1336.0 1608.8,1341.7 1610.7,1347.2 1612.7,1352.4 1614.7,1357.5 1616.7,1362.3 1618.6,1366.9 1620.6,1371.2 1622.6,1375.3 1624.6,1379.0 1626.5,1382.4 1628.5,1385.5 1630.5,1388.2 1632.5,1390.6 1634.4,1392.6 1636.4,1394.2 1638.4,1395.5 1640.4,1396.4 1642.3,1396.9 1644.3,1397.0 1646.3,1396.7 1648.3,1396.0 1650.3,1395.0 1652.2,1393.6 1654.2,1391.7 1656.2,1389.6 1658.2,1387.0 1660.1,1384.1 1661.3,1230.7 1661.3,1244.1 1666.7,1251.5 1672.0,1259.2 1677.4,1267.3 1682.8,1275.6 1688.1,1284.3 1693.5,1293.3 1695.4,1305.4 1697.3,1317.4 1699.2,1329.4 1701.0,1341.2 1702.9,1352.9 1704.8,1364.4 1706.7,1375.6 1708.5,1386.6 1710.4,1397.2 1712.3,1407.4 1714.2,1417.3 1716.1,1426.7 1717.9,1435.6 1719.8,1444.0 1721.7,1451.8 1723.6,1459.1 1725.5,1465.7 1727.3,1471.7 1729.2,1477.1 1731.1,1481.8 1733.0,1485.8 1734.8,1489.1 1736.7,1491.7 1738.6,1493.5 1740.5,1494.6 1742.4,1495.0 1742.4,1495.0 1744.3,1494.6 1746.3,1493.5 1748.3,1491.5 1750.2,1488.9 1752.2,1485.4 1754.2,1481.3 1756.1,1476.4 1758.1,1470.8 1760.1,1464.5 1762.1,1457.6 1764.0,1450.0 1766.0,1441.9 1768.0,1433.2 1769.9,1423.9 1771.9,1414.2 1773.9,1404.0 1775.8,1393.4 1777.8,1382.5 1779.8,1371.2 1781.8,1359.6 1783.7,1347.7 1785.7,1335.7 1787.7,1323.6 1789.6,1311.3 1791.6,1299.0 1791.6,1299.0 1793.6,1305.2 1795.6,1311.4 1797.6,1317.5 1799.6,1323.6 1801.5,1329.6 1803.5,1335.4 1805.5,1341.1 1807.5,1346.6 1809.5,1352.0 1811.5,1357.1 1813.5,1362.0 1815.5,1366.6 1817.5,1371.0 1819.5,1375.1 1821.4,1378.8 1823.4,1382.3 1825.4,1385.4 1827.4,1388.1 1829.4,1390.6 1831.4,1392.6 1833.4,1394.2 1835.4,1395.5 1837.4,1396.4 1839.3,1396.9 1841.3,1397.0 1843.3,1396.7 1845.3,1396.0 1847.3,1394.9 1849.3,1393.5 1851.3,1391.6 1853.3,1389.4 1855.3,1386.8 1857.2,1383.9 1859.2,1380.6 1861.2,1377.0 1863.2,1373.1 1865.2,1368.9 1867.2,1364.4 1869.2,1359.6 1871.2,1354.6 1873.2,1349.4 1875.2,1343.9 1877.1,1338.3 1879.1,1332.5 1881.1,1326.6 1883.1,1320.6 1885.1,1314.5 1887.1,1308.3 1889.1,1302.1 1891.1,1295.9 1893.1,1289.5 1895.0,1283.2 1897.0,1277.0 1899.0,1270.8 1901.0,1264.8 1903.0,1258.9 1905.0,1253.2 1907.0,1247.6 1909.0,1242.3 1911.0,1237.2 1912.9,1232.3 1914.9,1227.7 1916.9,1223.4 1918.9,1219.4 1920.9,1215.7 1922.9,1212.4 1924.9,1209.4 1926.9,1206.7 1928.9,1204.5 1930.9,1202.6 1932.8,1201.1 1934.8,1200.0 1936.8,1199.3 1938.8,1199.0 1940.8,1199.1 1942.8,1199.6 1944.8,1200.5 1946.8,1201.7 1948.8,1203.4 1950.7,1205.5 1952.7,1208.0 1954.7,1210.8 1956.7,1213.9 1958.7,1217.5 1960.7,1221.3 1961.9,1348.2 1961.9,1335.9 1966.8,1329.2 1971.7,1322.3 1976.5,1315.0 1981.4,1307.4 1986.3,1299.5 1991.2,1291.2 1993.0,1279.7 1994.8,1268.3 1996.6,1256.9 1998.4,1245.7 2000.2,1234.7 2002.0,1223.9 2003.8,1213.4 2005.6,1203.2 2007.3,1193.3 2009.1,1183.8 2010.9,1174.6 2012.7,1165.9 2014.5,1157.7 2016.3,1149.9 2018.1,1142.7 2019.9,1136.0 2021.7,1129.9 2023.5,1124.3 2025.3,1119.4 2027.1,1115.1 2028.8,1111.4 2030.6,1108.4 2032.4,1106.0 2034.2,1104.3 2036.0,1103.3 2037.8,1103.0 2037.8,1103.0 2039.8,1103.4 2041.7,1104.5 2043.7,1106.5 2045.7,1109.1 2047.6,1112.6 2049.6,1116.7 2051.6,1121.6 2053.6,1127.2 2055.5,1133.5 2057.5,1140.4 2059.5,1148.0 2061.4,1156.1 2063.4,1164.8 2065.4,1174.1 2067.3,1183.8 2069.3,1194.0 2071.3,1204.6 2073.3,1215.5 2075.2,1226.8 2077.2,1238.4 2079.2,1250.3 2081.1,1262.3 2083.1,1274.4 2085.1,1286.7 2087.0,1299.0 2087.0,1299.0 2087.0,1299.0 2087.0,1299.0 2087.0,1299.0 2087.0,1299.0 2087.0,1299.0 2087.0,1299.0 2087.0,1299.0 2087.0,1297.2" fill="none" stroke="#C010FF" stroke-width="13.5" stroke-linecap="round" stroke-linejoin="round"/>
<text x="143.83" y="1122.60">220</text>
<text x="143.83" y="1225.40">110</text>
<text x="191.20" y="1323.00">0</text>
<text x="125.63" y="1422.30">-110</text>
<text x="125.83" y="1516.10">-220</text>
<text transform="translate(74.3,1469.5) rotate(-90)">Voltage (V)</text>
</g>
<text x="569.37" y="1636.30">30</text>
<text x="872.17" y="1641.20">60</text>
<text x="1171.17" y="1640.60">90</text>
<text x="1455.23" y="1636.30">120</text>
<text x="1748.53" y="1636.30">150</text>
<text x="1999.43" y="1636.90">180</text>
<text x="1054.40" y="1729.60">Time (ms)</text>
<rect x="607" y="64.1" width="301.9" height="103.7" fill="#C4D6A0"/>
<text x="635.88" y="135.00">Phase−A</text>
<rect x="814" y="574.1" width="300.9" height="103.7" fill="#C4D6A0"/>
<text x="845.18" y="646.20">Phase−B</text>
<rect x="1001" y="1099.1" width="301.0" height="102.7" fill="#C4D6A0"/>
<text x="1032.28" y="1171.20">Phase−C</text>
<rect x="1479" y="341" width="333.2" height="131" rx="65.5" ry="65.5" fill="#B7DDE8"/>
<path d="M1318.4,190.1 L1461.1,332.2" stroke="#000" stroke-width="8.2" fill="none"/>
<path d="M1494.1,365.0 L1437.0,346.6 Q1449.8,340.1 1460.4,331.5 Q1469.0,320.8 1475.4,307.9 Z" fill="#000"/>
<text><tspan x="1497.08" y="386">Motor load</tspan><tspan x="1569.90" y="466.3">effect</tspan></text>
<text x="586.35" y="1154.5">V<tspan x="634.08" style="font-size:48.6px">m</tspan></text>
<text x="1749.25" y="1135.6">V<tspan x="1797.08" style="font-size:48.6px">m</tspan><tspan x="1836.40">/</tspan><tspan x="1852.07">2</tspan></text>
</svg>
</body>
</html>
